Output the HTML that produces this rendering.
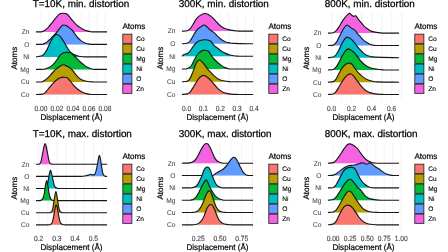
<!DOCTYPE html>
<html><head><meta charset="utf-8"><title>Displacement ridgeline plots</title>
<style>
html,body{margin:0;padding:0;background:#fff;}
body{width:448px;height:252px;overflow:hidden;}
svg{display:block;font-family:"Liberation Sans", sans-serif;text-rendering:geometricPrecision;}
</style></head><body>
<svg width="448" height="252" viewBox="0 0 448 252">
<defs><filter id="soft" x="0" y="0" width="448" height="252" filterUnits="userSpaceOnUse"><feGaussianBlur stdDeviation="0.32"/></filter></defs>
<rect width="448" height="252" fill="#fff"/>
<g filter="url(#soft)">
<g>
<path d="M40.9,12.8V101.3M48.91,12.8V101.3M56.93,12.8V101.3M64.94,12.8V101.3M72.96,12.8V101.3M80.97,12.8V101.3M88.99,12.8V101.3M97,12.8V101.3M105.02,12.8V101.3" stroke="#EBEBEB" stroke-width="0.6" fill="none"/>
<path d="M33,31.9H110.3M33,44.4H110.3M33,56.9H110.3M33,69.4H110.3M33,81.95H110.3M33,94.5H110.3" stroke="#EBEBEB" stroke-width="0.6" fill="none"/>
<path d="M36,31.9H41.25C41.88,31.61 43.75,31 45,30.15C46.25,29.3 47.5,28.12 48.75,26.77C50,25.43 51.25,23.65 52.5,22.09C53.75,20.52 55,18.77 56.25,17.4C57.5,16.02 58.81,14.52 60,13.84C61.19,13.15 62.28,13.27 63.38,13.27C64.47,13.27 65.56,13.27 66.56,13.84C67.56,14.4 68.44,15.59 69.38,16.65C70.31,17.71 71.25,19.09 72.19,20.21C73.12,21.34 74.06,22.43 75,23.4C75.94,24.37 76.88,25.27 77.81,26.02C78.75,26.77 79.53,27.24 80.62,27.9C81.72,28.56 83.12,29.43 84.38,29.96C85.62,30.49 86.88,30.76 88.12,31.09C89.38,31.41 91.25,31.76 91.88,31.9H107Z" fill="#F564E3" stroke="none"/>
<path d="M36,31.9H41.25C41.88,31.61 43.75,31 45,30.15C46.25,29.3 47.5,28.12 48.75,26.77C50,25.43 51.25,23.65 52.5,22.09C53.75,20.52 55,18.77 56.25,17.4C57.5,16.02 58.81,14.52 60,13.84C61.19,13.15 62.28,13.27 63.38,13.27C64.47,13.27 65.56,13.27 66.56,13.84C67.56,14.4 68.44,15.59 69.38,16.65C70.31,17.71 71.25,19.09 72.19,20.21C73.12,21.34 74.06,22.43 75,23.4C75.94,24.37 76.88,25.27 77.81,26.02C78.75,26.77 79.53,27.24 80.62,27.9C81.72,28.56 83.12,29.43 84.38,29.96C85.62,30.49 86.88,30.76 88.12,31.09C89.38,31.41 91.25,31.76 91.88,31.9H107" fill="none" stroke="#181818" stroke-width="1.15" stroke-linejoin="round"/>
<path d="M36,44.4H42.19C42.66,44.23 44.16,43.8 45,43.38C45.84,42.95 46.47,42.5 47.25,41.88C48.03,41.25 48.84,40.45 49.69,39.62C50.53,38.8 51.28,37.97 52.31,36.91C53.34,35.84 54.81,34.45 55.88,33.25C56.94,32.05 57.84,30.75 58.69,29.69C59.53,28.62 60.22,27.64 60.94,26.88C61.66,26.11 62.16,25.31 63,25.09C63.84,24.88 64.94,25.11 66,25.56C67.06,26.02 68.34,27.03 69.38,27.81C70.41,28.59 71.25,29.22 72.19,30.25C73.12,31.28 74.06,32.75 75,34C75.94,35.25 76.88,36.69 77.81,37.75C78.75,38.81 79.53,39.53 80.62,40.38C81.72,41.22 83.12,42.23 84.38,42.81C85.62,43.39 86.88,43.58 88.12,43.84C89.38,44.11 91.25,44.31 91.88,44.4H107Z" fill="#619CFF" stroke="none"/>
<path d="M36,44.4H42.19C42.66,44.23 44.16,43.8 45,43.38C45.84,42.95 46.47,42.5 47.25,41.88C48.03,41.25 48.84,40.45 49.69,39.62C50.53,38.8 51.28,37.97 52.31,36.91C53.34,35.84 54.81,34.45 55.88,33.25C56.94,32.05 57.84,30.75 58.69,29.69C59.53,28.62 60.22,27.64 60.94,26.88C61.66,26.11 62.16,25.31 63,25.09C63.84,24.88 64.94,25.11 66,25.56C67.06,26.02 68.34,27.03 69.38,27.81C70.41,28.59 71.25,29.22 72.19,30.25C73.12,31.28 74.06,32.75 75,34C75.94,35.25 76.88,36.69 77.81,37.75C78.75,38.81 79.53,39.53 80.62,40.38C81.72,41.22 83.12,42.23 84.38,42.81C85.62,43.39 86.88,43.58 88.12,43.84C89.38,44.11 91.25,44.31 91.88,44.4H107" fill="none" stroke="#181818" stroke-width="1.15" stroke-linejoin="round"/>
<path d="M36,56.9C36.88,56.76 39.91,56.49 41.25,56.04C42.59,55.58 43.12,55.19 44.06,54.16C45,53.13 45.94,51.57 46.88,49.85C47.81,48.13 48.75,45.79 49.69,43.85C50.62,41.91 51.56,39.69 52.5,38.23C53.44,36.76 54.53,35.66 55.31,35.04C56.09,34.41 56.41,34.26 57.19,34.48C57.97,34.69 59.06,35.41 60,36.35C60.94,37.29 61.88,38.69 62.81,40.1C63.75,41.51 64.69,43.23 65.62,44.79C66.56,46.35 67.5,48.13 68.44,49.48C69.38,50.82 70.16,51.91 71.25,52.85C72.34,53.79 73.75,54.54 75,55.1C76.25,55.66 77.19,55.93 78.75,56.23C80.31,56.52 83.44,56.79 84.38,56.9H107Z" fill="#00BFC4" stroke="none"/>
<path d="M36,56.9C36.88,56.76 39.91,56.49 41.25,56.04C42.59,55.58 43.12,55.19 44.06,54.16C45,53.13 45.94,51.57 46.88,49.85C47.81,48.13 48.75,45.79 49.69,43.85C50.62,41.91 51.56,39.69 52.5,38.23C53.44,36.76 54.53,35.66 55.31,35.04C56.09,34.41 56.41,34.26 57.19,34.48C57.97,34.69 59.06,35.41 60,36.35C60.94,37.29 61.88,38.69 62.81,40.1C63.75,41.51 64.69,43.23 65.62,44.79C66.56,46.35 67.5,48.13 68.44,49.48C69.38,50.82 70.16,51.91 71.25,52.85C72.34,53.79 73.75,54.54 75,55.1C76.25,55.66 77.19,55.93 78.75,56.23C80.31,56.52 83.44,56.79 84.38,56.9H107" fill="none" stroke="#181818" stroke-width="1.15" stroke-linejoin="round"/>
<path d="M36,69.4H41C41.68,69.33 43.78,69.3 45.1,69C46.42,68.7 47.73,68.2 48.9,67.6C50.07,67 51.05,66.3 52.1,65.4C53.15,64.5 54.25,63.37 55.2,62.2C56.15,61.03 56.95,59.57 57.8,58.4C58.65,57.23 59.35,56.13 60.3,55.2C61.25,54.27 62.43,53.27 63.5,52.8C64.57,52.33 65.53,52.4 66.7,52.4C67.87,52.4 69.4,52.37 70.5,52.8C71.6,53.23 72.3,54.1 73.3,55C74.3,55.9 75.33,57.03 76.5,58.2C77.67,59.37 79.03,60.85 80.3,62C81.57,63.15 82.83,64.17 84.1,65.1C85.37,66.03 86.63,66.95 87.9,67.6C89.17,68.25 90.52,68.7 91.7,69C92.88,69.3 94.45,69.33 95,69.4H107Z" fill="#00BA38" stroke="none"/>
<path d="M36,69.4H41C41.68,69.33 43.78,69.3 45.1,69C46.42,68.7 47.73,68.2 48.9,67.6C50.07,67 51.05,66.3 52.1,65.4C53.15,64.5 54.25,63.37 55.2,62.2C56.15,61.03 56.95,59.57 57.8,58.4C58.65,57.23 59.35,56.13 60.3,55.2C61.25,54.27 62.43,53.27 63.5,52.8C64.57,52.33 65.53,52.4 66.7,52.4C67.87,52.4 69.4,52.37 70.5,52.8C71.6,53.23 72.3,54.1 73.3,55C74.3,55.9 75.33,57.03 76.5,58.2C77.67,59.37 79.03,60.85 80.3,62C81.57,63.15 82.83,64.17 84.1,65.1C85.37,66.03 86.63,66.95 87.9,67.6C89.17,68.25 90.52,68.7 91.7,69C92.88,69.3 94.45,69.33 95,69.4H107" fill="none" stroke="#181818" stroke-width="1.15" stroke-linejoin="round"/>
<path d="M36,81.95H42.19C42.66,81.65 44.06,80.85 45,80.17C45.94,79.5 46.88,78.8 47.81,77.92C48.75,77.05 49.69,75.96 50.62,74.92C51.56,73.89 52.5,72.74 53.44,71.74C54.38,70.74 55.31,69.77 56.25,68.92C57.19,68.08 58.12,67.3 59.06,66.67C60,66.05 61.09,65.49 61.88,65.17C62.66,64.86 62.97,64.64 63.75,64.8C64.53,64.96 65.62,65.67 66.56,66.11C67.5,66.55 68.44,66.8 69.38,67.42C70.31,68.05 71.25,68.83 72.19,69.86C73.12,70.89 74.06,72.46 75,73.61C75.94,74.77 76.88,75.86 77.81,76.8C78.75,77.74 79.53,78.58 80.62,79.24C81.72,79.89 83.12,80.36 84.38,80.74C85.62,81.11 86.56,81.29 88.12,81.49C89.69,81.69 92.81,81.87 93.75,81.95H107Z" fill="#B79F00" stroke="none"/>
<path d="M36,81.95H42.19C42.66,81.65 44.06,80.85 45,80.17C45.94,79.5 46.88,78.8 47.81,77.92C48.75,77.05 49.69,75.96 50.62,74.92C51.56,73.89 52.5,72.74 53.44,71.74C54.38,70.74 55.31,69.77 56.25,68.92C57.19,68.08 58.12,67.3 59.06,66.67C60,66.05 61.09,65.49 61.88,65.17C62.66,64.86 62.97,64.64 63.75,64.8C64.53,64.96 65.62,65.67 66.56,66.11C67.5,66.55 68.44,66.8 69.38,67.42C70.31,68.05 71.25,68.83 72.19,69.86C73.12,70.89 74.06,72.46 75,73.61C75.94,74.77 76.88,75.86 77.81,76.8C78.75,77.74 79.53,78.58 80.62,79.24C81.72,79.89 83.12,80.36 84.38,80.74C85.62,81.11 86.56,81.29 88.12,81.49C89.69,81.69 92.81,81.87 93.75,81.95H107" fill="none" stroke="#181818" stroke-width="1.15" stroke-linejoin="round"/>
<path d="M36,94.5C37.03,94.45 40.69,94.46 42.19,94.19C43.69,93.92 44.06,93.66 45,92.88C45.94,92.09 46.88,90.62 47.81,89.5C48.75,88.38 49.69,87.22 50.62,86.12C51.56,85.03 52.5,83.91 53.44,82.94C54.38,81.97 55.31,81.09 56.25,80.31C57.19,79.53 58.12,78.75 59.06,78.25C60,77.75 60.94,77.48 61.88,77.31C62.81,77.14 63.88,77.17 64.69,77.22C65.5,77.27 66.12,77.3 66.75,77.59C67.38,77.89 67.81,78.39 68.44,79C69.06,79.61 69.72,80.28 70.5,81.25C71.28,82.22 72.22,83.75 73.12,84.81C74.03,85.88 75,86.75 75.94,87.62C76.88,88.5 77.66,89.28 78.75,90.06C79.84,90.84 81.25,91.72 82.5,92.31C83.75,92.91 84.84,93.26 86.25,93.62C87.66,93.99 90.16,94.35 90.94,94.5H107Z" fill="#F8766D" stroke="none"/>
<path d="M36,94.5C37.03,94.45 40.69,94.46 42.19,94.19C43.69,93.92 44.06,93.66 45,92.88C45.94,92.09 46.88,90.62 47.81,89.5C48.75,88.38 49.69,87.22 50.62,86.12C51.56,85.03 52.5,83.91 53.44,82.94C54.38,81.97 55.31,81.09 56.25,80.31C57.19,79.53 58.12,78.75 59.06,78.25C60,77.75 60.94,77.48 61.88,77.31C62.81,77.14 63.88,77.17 64.69,77.22C65.5,77.27 66.12,77.3 66.75,77.59C67.38,77.89 67.81,78.39 68.44,79C69.06,79.61 69.72,80.28 70.5,81.25C71.28,82.22 72.22,83.75 73.12,84.81C74.03,85.88 75,86.75 75.94,87.62C76.88,88.5 77.66,89.28 78.75,90.06C79.84,90.84 81.25,91.72 82.5,92.31C83.75,92.91 84.84,93.26 86.25,93.62C87.66,93.99 90.16,94.35 90.94,94.5H107" fill="none" stroke="#181818" stroke-width="1.15" stroke-linejoin="round"/>
<text x="32.8" y="6.9" font-size="9.9" fill="#000" stroke="#000" stroke-width="0.25">T=10K, min. distortion</text>
<text transform="translate(29.5,34.25) scale(1,1.05)" font-size="6.6" fill="#4D4D4D" stroke="#4D4D4D" stroke-width="0.08" text-anchor="end">Zn</text>
<text transform="translate(29.5,46.75) scale(1,1.05)" font-size="6.6" fill="#4D4D4D" stroke="#4D4D4D" stroke-width="0.08" text-anchor="end">O</text>
<text transform="translate(29.5,59.25) scale(1,1.05)" font-size="6.6" fill="#4D4D4D" stroke="#4D4D4D" stroke-width="0.08" text-anchor="end">Ni</text>
<text transform="translate(29.5,71.75) scale(1,1.05)" font-size="6.6" fill="#4D4D4D" stroke="#4D4D4D" stroke-width="0.08" text-anchor="end">Mg</text>
<text transform="translate(29.5,84.3) scale(1,1.05)" font-size="6.6" fill="#4D4D4D" stroke="#4D4D4D" stroke-width="0.08" text-anchor="end">Cu</text>
<text transform="translate(29.5,96.85) scale(1,1.05)" font-size="6.6" fill="#4D4D4D" stroke="#4D4D4D" stroke-width="0.08" text-anchor="end">Co</text>
<text transform="translate(16.85,58.1) rotate(-90)" font-size="8.1" fill="#000" stroke="#000" stroke-width="0.2" text-anchor="middle">Atoms</text>
<text transform="translate(40.9,110.6) scale(1,1.14)" font-size="6.6" fill="#4D4D4D" stroke="#4D4D4D" stroke-width="0.15" text-anchor="middle">0.00</text>
<text transform="translate(56.93,110.6) scale(1,1.14)" font-size="6.6" fill="#4D4D4D" stroke="#4D4D4D" stroke-width="0.15" text-anchor="middle">0.02</text>
<text transform="translate(72.95,110.6) scale(1,1.14)" font-size="6.6" fill="#4D4D4D" stroke="#4D4D4D" stroke-width="0.15" text-anchor="middle">0.04</text>
<text transform="translate(88.98,110.6) scale(1,1.14)" font-size="6.6" fill="#4D4D4D" stroke="#4D4D4D" stroke-width="0.15" text-anchor="middle">0.06</text>
<text transform="translate(105,110.6) scale(1,1.14)" font-size="6.6" fill="#4D4D4D" stroke="#4D4D4D" stroke-width="0.15" text-anchor="middle">0.08</text>
<text transform="translate(71.5,120.2) scale(1,1.03)" font-size="8.1" fill="#000" stroke="#000" stroke-width="0.2" text-anchor="middle">Displacement (Å)</text>
<text transform="translate(122.4,28.7) scale(1,1.03)" font-size="8.1" fill="#000" stroke="#000" stroke-width="0.2">Atoms</text>
<rect x="122.8" y="34.15" width="9.1" height="9.2" fill="#F8766D" stroke="#181818" stroke-width="0.8"/>
<text x="136.35" y="41.45" font-size="6.6" fill="#000" stroke="#000" stroke-width="0.12">Co</text>
<rect x="122.8" y="44.15" width="9.1" height="9.2" fill="#B79F00" stroke="#181818" stroke-width="0.8"/>
<text x="136.35" y="51.45" font-size="6.6" fill="#000" stroke="#000" stroke-width="0.12">Cu</text>
<rect x="122.8" y="54.15" width="9.1" height="9.2" fill="#00BA38" stroke="#181818" stroke-width="0.8"/>
<text x="136.35" y="61.45" font-size="6.6" fill="#000" stroke="#000" stroke-width="0.12">Mg</text>
<rect x="122.8" y="64.15" width="9.1" height="9.2" fill="#00BFC4" stroke="#181818" stroke-width="0.8"/>
<text x="136.35" y="71.45" font-size="6.6" fill="#000" stroke="#000" stroke-width="0.12">Ni</text>
<rect x="122.8" y="74.15" width="9.1" height="9.2" fill="#619CFF" stroke="#181818" stroke-width="0.8"/>
<text x="136.35" y="81.45" font-size="6.6" fill="#000" stroke="#000" stroke-width="0.12">O</text>
<rect x="122.8" y="84.15" width="9.1" height="9.2" fill="#F564E3" stroke="#181818" stroke-width="0.8"/>
<text x="136.35" y="91.45" font-size="6.6" fill="#000" stroke="#000" stroke-width="0.12">Zn</text>
</g>
<g>
<path d="M186.5,12.8V101.3M194.94,12.8V101.3M203.38,12.8V101.3M211.82,12.8V101.3M220.26,12.8V101.3M228.7,12.8V101.3M237.14,12.8V101.3M245.58,12.8V101.3M254.02,12.8V101.3" stroke="#EBEBEB" stroke-width="0.6" fill="none"/>
<path d="M179,31.1H256.3M179,43.8H256.3M179,56.2H256.3M179,69H256.3M179,81.75H256.3M179,94.5H256.3" stroke="#EBEBEB" stroke-width="0.6" fill="none"/>
<path d="M182,31.1C182.88,31.04 185.91,31.1 187.25,30.73C188.59,30.35 189.12,29.85 190.06,28.85C191,27.85 191.94,26.23 192.88,24.73C193.81,23.23 194.75,21.19 195.69,19.85C196.62,18.51 197.41,17.6 198.5,16.66C199.59,15.73 201.16,14.76 202.25,14.23C203.34,13.69 204.12,13.48 205.06,13.48C206,13.48 206.94,13.79 207.88,14.23C208.81,14.66 209.75,15.38 210.69,16.1C211.62,16.82 212.56,17.6 213.5,18.54C214.44,19.48 215.38,20.69 216.31,21.73C217.25,22.76 218.19,23.85 219.12,24.73C220.06,25.6 221,26.35 221.94,26.98C222.88,27.6 223.66,28.04 224.75,28.48C225.84,28.91 227.25,29.29 228.5,29.6C229.75,29.91 230.69,30.1 232.25,30.35C233.81,30.6 236.94,30.98 237.88,31.1H253Z" fill="#F564E3" stroke="none"/>
<path d="M182,31.1C182.88,31.04 185.91,31.1 187.25,30.73C188.59,30.35 189.12,29.85 190.06,28.85C191,27.85 191.94,26.23 192.88,24.73C193.81,23.23 194.75,21.19 195.69,19.85C196.62,18.51 197.41,17.6 198.5,16.66C199.59,15.73 201.16,14.76 202.25,14.23C203.34,13.69 204.12,13.48 205.06,13.48C206,13.48 206.94,13.79 207.88,14.23C208.81,14.66 209.75,15.38 210.69,16.1C211.62,16.82 212.56,17.6 213.5,18.54C214.44,19.48 215.38,20.69 216.31,21.73C217.25,22.76 218.19,23.85 219.12,24.73C220.06,25.6 221,26.35 221.94,26.98C222.88,27.6 223.66,28.04 224.75,28.48C225.84,28.91 227.25,29.29 228.5,29.6C229.75,29.91 230.69,30.1 232.25,30.35C233.81,30.6 236.94,30.98 237.88,31.1H253" fill="none" stroke="#181818" stroke-width="1.15" stroke-linejoin="round"/>
<path d="M182,43.8C182.88,43.71 185.91,43.71 187.25,43.24C188.59,42.77 189.12,42.14 190.06,40.99C191,39.83 191.94,37.86 192.88,36.3C193.81,34.74 194.75,32.92 195.69,31.61C196.62,30.3 197.56,29.27 198.5,28.42C199.44,27.58 200.38,27.11 201.31,26.55C202.25,25.99 203.34,25.14 204.12,25.05C204.91,24.96 205.22,25.36 206,25.99C206.78,26.61 207.88,27.96 208.81,28.8C209.75,29.64 210.69,30.36 211.62,31.05C212.56,31.74 213.5,32.11 214.44,32.92C215.38,33.74 216.31,34.99 217.25,35.92C218.19,36.86 219.12,37.77 220.06,38.55C221,39.33 221.94,40.05 222.88,40.61C223.81,41.17 224.59,41.55 225.69,41.92C226.78,42.3 228.03,42.61 229.44,42.86C230.84,43.11 230.2,43.27 234.12,43.42C238.05,43.58 249.85,43.74 253,43.8Z" fill="#619CFF" stroke="none"/>
<path d="M182,43.8C182.88,43.71 185.91,43.71 187.25,43.24C188.59,42.77 189.12,42.14 190.06,40.99C191,39.83 191.94,37.86 192.88,36.3C193.81,34.74 194.75,32.92 195.69,31.61C196.62,30.3 197.56,29.27 198.5,28.42C199.44,27.58 200.38,27.11 201.31,26.55C202.25,25.99 203.34,25.14 204.12,25.05C204.91,24.96 205.22,25.36 206,25.99C206.78,26.61 207.88,27.96 208.81,28.8C209.75,29.64 210.69,30.36 211.62,31.05C212.56,31.74 213.5,32.11 214.44,32.92C215.38,33.74 216.31,34.99 217.25,35.92C218.19,36.86 219.12,37.77 220.06,38.55C221,39.33 221.94,40.05 222.88,40.61C223.81,41.17 224.59,41.55 225.69,41.92C226.78,42.3 228.03,42.61 229.44,42.86C230.84,43.11 230.2,43.27 234.12,43.42C238.05,43.58 249.85,43.74 253,43.8" fill="none" stroke="#181818" stroke-width="1.15" stroke-linejoin="round"/>
<path d="M182,56.2C182.33,55.92 183.03,55 184,54.5C184.97,54 186.75,53.83 187.8,53.2C188.85,52.57 189.45,51.75 190.3,50.7C191.15,49.65 192.05,48.07 192.9,46.9C193.75,45.73 194.55,44.58 195.4,43.7C196.25,42.82 197.05,42.18 198,41.6C198.95,41.02 200.05,40.5 201.1,40.2C202.15,39.9 203.23,39.83 204.3,39.8C205.37,39.77 206.43,39.75 207.5,40C208.57,40.25 209.75,40.58 210.7,41.3C211.65,42.02 212.4,43.4 213.2,44.3C214,45.2 214.8,46.08 215.5,46.7C216.2,47.32 216.45,47.28 217.4,48C218.35,48.72 219.93,50.15 221.2,51C222.47,51.85 223.72,52.47 225,53.1C226.28,53.73 227.42,54.35 228.9,54.8C230.38,55.25 232.22,55.57 233.9,55.8C235.58,56.03 238.15,56.13 239,56.2H253Z" fill="#00BFC4" stroke="none"/>
<path d="M182,56.2C182.33,55.92 183.03,55 184,54.5C184.97,54 186.75,53.83 187.8,53.2C188.85,52.57 189.45,51.75 190.3,50.7C191.15,49.65 192.05,48.07 192.9,46.9C193.75,45.73 194.55,44.58 195.4,43.7C196.25,42.82 197.05,42.18 198,41.6C198.95,41.02 200.05,40.5 201.1,40.2C202.15,39.9 203.23,39.83 204.3,39.8C205.37,39.77 206.43,39.75 207.5,40C208.57,40.25 209.75,40.58 210.7,41.3C211.65,42.02 212.4,43.4 213.2,44.3C214,45.2 214.8,46.08 215.5,46.7C216.2,47.32 216.45,47.28 217.4,48C218.35,48.72 219.93,50.15 221.2,51C222.47,51.85 223.72,52.47 225,53.1C226.28,53.73 227.42,54.35 228.9,54.8C230.38,55.25 232.22,55.57 233.9,55.8C235.58,56.03 238.15,56.13 239,56.2H253" fill="none" stroke="#181818" stroke-width="1.15" stroke-linejoin="round"/>
<path d="M182,69H186C186.52,68.78 188.17,68.32 189.1,67.7C190.03,67.08 190.75,66.55 191.6,65.3C192.45,64.05 193.35,61.78 194.2,60.2C195.05,58.62 195.87,57.07 196.7,55.8C197.53,54.53 198.15,53.5 199.2,52.6C200.25,51.7 201.52,50.67 203,50.4C204.48,50.13 206.93,50.47 208.1,51C209.27,51.53 209.32,52.65 210,53.6C210.68,54.55 211.6,55.88 212.2,56.7C212.8,57.52 212.73,57.57 213.6,58.5C214.47,59.43 216.13,61.15 217.4,62.3C218.67,63.45 219.93,64.52 221.2,65.4C222.47,66.28 223.62,67 225,67.6C226.38,68.2 228.75,68.77 229.5,69H253Z" fill="#00BA38" stroke="none"/>
<path d="M182,69H186C186.52,68.78 188.17,68.32 189.1,67.7C190.03,67.08 190.75,66.55 191.6,65.3C192.45,64.05 193.35,61.78 194.2,60.2C195.05,58.62 195.87,57.07 196.7,55.8C197.53,54.53 198.15,53.5 199.2,52.6C200.25,51.7 201.52,50.67 203,50.4C204.48,50.13 206.93,50.47 208.1,51C209.27,51.53 209.32,52.65 210,53.6C210.68,54.55 211.6,55.88 212.2,56.7C212.8,57.52 212.73,57.57 213.6,58.5C214.47,59.43 216.13,61.15 217.4,62.3C218.67,63.45 219.93,64.52 221.2,65.4C222.47,66.28 223.62,67 225,67.6C226.38,68.2 228.75,68.77 229.5,69H253" fill="none" stroke="#181818" stroke-width="1.15" stroke-linejoin="round"/>
<path d="M182,81.75C182.88,81.66 185.91,81.75 187.25,81.21C188.59,80.65 189.12,79.96 190.06,78.4C191,76.84 191.94,74.18 192.88,71.84C193.81,69.49 194.91,66.12 195.69,64.34C196.47,62.56 196.94,61.87 197.56,61.15C198.19,60.43 198.81,60.03 199.44,60.03C200.06,60.03 200.53,60.43 201.31,61.15C202.09,61.87 203.19,63.18 204.12,64.34C205.06,65.49 206,66.9 206.94,68.09C207.88,69.28 208.81,70.43 209.75,71.46C210.69,72.49 211.62,73.37 212.56,74.28C213.5,75.18 214.44,76.12 215.38,76.9C216.31,77.68 217.25,78.4 218.19,78.96C219.12,79.53 219.91,79.93 221,80.28C222.09,80.62 223.19,80.78 224.75,81.03C226.31,81.27 229.44,81.63 230.38,81.75H253Z" fill="#B79F00" stroke="none"/>
<path d="M182,81.75C182.88,81.66 185.91,81.75 187.25,81.21C188.59,80.65 189.12,79.96 190.06,78.4C191,76.84 191.94,74.18 192.88,71.84C193.81,69.49 194.91,66.12 195.69,64.34C196.47,62.56 196.94,61.87 197.56,61.15C198.19,60.43 198.81,60.03 199.44,60.03C200.06,60.03 200.53,60.43 201.31,61.15C202.09,61.87 203.19,63.18 204.12,64.34C205.06,65.49 206,66.9 206.94,68.09C207.88,69.28 208.81,70.43 209.75,71.46C210.69,72.49 211.62,73.37 212.56,74.28C213.5,75.18 214.44,76.12 215.38,76.9C216.31,77.68 217.25,78.4 218.19,78.96C219.12,79.53 219.91,79.93 221,80.28C222.09,80.62 223.19,80.78 224.75,81.03C226.31,81.27 229.44,81.63 230.38,81.75H253" fill="none" stroke="#181818" stroke-width="1.15" stroke-linejoin="round"/>
<path d="M182,94.5C182.88,94.4 185.91,94.33 187.25,93.92C188.59,93.52 189.12,93.05 190.06,92.05C191,91.05 191.94,89.39 192.88,87.92C193.81,86.46 194.75,84.74 195.69,83.24C196.62,81.74 197.56,80.08 198.5,78.92C199.44,77.77 200.53,76.89 201.31,76.3C202.09,75.71 202.41,75.36 203.19,75.36C203.97,75.36 205.06,75.77 206,76.3C206.94,76.83 207.88,77.71 208.81,78.55C209.75,79.39 210.69,80.36 211.62,81.36C212.56,82.36 213.5,83.46 214.44,84.55C215.38,85.64 216.31,86.96 217.25,87.92C218.19,88.89 219.12,89.64 220.06,90.36C221,91.08 221.78,91.74 222.88,92.24C223.97,92.74 225.22,93.05 226.62,93.36C228.03,93.67 229.44,93.92 231.31,94.11C233.19,94.3 236.78,94.44 237.88,94.5H253Z" fill="#F8766D" stroke="none"/>
<path d="M182,94.5C182.88,94.4 185.91,94.33 187.25,93.92C188.59,93.52 189.12,93.05 190.06,92.05C191,91.05 191.94,89.39 192.88,87.92C193.81,86.46 194.75,84.74 195.69,83.24C196.62,81.74 197.56,80.08 198.5,78.92C199.44,77.77 200.53,76.89 201.31,76.3C202.09,75.71 202.41,75.36 203.19,75.36C203.97,75.36 205.06,75.77 206,76.3C206.94,76.83 207.88,77.71 208.81,78.55C209.75,79.39 210.69,80.36 211.62,81.36C212.56,82.36 213.5,83.46 214.44,84.55C215.38,85.64 216.31,86.96 217.25,87.92C218.19,88.89 219.12,89.64 220.06,90.36C221,91.08 221.78,91.74 222.88,92.24C223.97,92.74 225.22,93.05 226.62,93.36C228.03,93.67 229.44,93.92 231.31,94.11C233.19,94.3 236.78,94.44 237.88,94.5H253" fill="none" stroke="#181818" stroke-width="1.15" stroke-linejoin="round"/>
<text x="178.8" y="6.9" font-size="9.9" fill="#000" stroke="#000" stroke-width="0.25">300K, min. distortion</text>
<text transform="translate(175.5,33.45) scale(1,1.05)" font-size="6.6" fill="#4D4D4D" stroke="#4D4D4D" stroke-width="0.08" text-anchor="end">Zn</text>
<text transform="translate(175.5,46.15) scale(1,1.05)" font-size="6.6" fill="#4D4D4D" stroke="#4D4D4D" stroke-width="0.08" text-anchor="end">O</text>
<text transform="translate(175.5,58.55) scale(1,1.05)" font-size="6.6" fill="#4D4D4D" stroke="#4D4D4D" stroke-width="0.08" text-anchor="end">Ni</text>
<text transform="translate(175.5,71.35) scale(1,1.05)" font-size="6.6" fill="#4D4D4D" stroke="#4D4D4D" stroke-width="0.08" text-anchor="end">Mg</text>
<text transform="translate(175.5,84.1) scale(1,1.05)" font-size="6.6" fill="#4D4D4D" stroke="#4D4D4D" stroke-width="0.08" text-anchor="end">Cu</text>
<text transform="translate(175.5,96.85) scale(1,1.05)" font-size="6.6" fill="#4D4D4D" stroke="#4D4D4D" stroke-width="0.08" text-anchor="end">Co</text>
<text transform="translate(162.85,58.1) rotate(-90)" font-size="8.1" fill="#000" stroke="#000" stroke-width="0.2" text-anchor="middle">Atoms</text>
<text transform="translate(186.5,110.6) scale(1,1.14)" font-size="6.6" fill="#4D4D4D" stroke="#4D4D4D" stroke-width="0.15" text-anchor="middle">0.0</text>
<text transform="translate(203.38,110.6) scale(1,1.14)" font-size="6.6" fill="#4D4D4D" stroke="#4D4D4D" stroke-width="0.15" text-anchor="middle">0.1</text>
<text transform="translate(220.25,110.6) scale(1,1.14)" font-size="6.6" fill="#4D4D4D" stroke="#4D4D4D" stroke-width="0.15" text-anchor="middle">0.2</text>
<text transform="translate(237.13,110.6) scale(1,1.14)" font-size="6.6" fill="#4D4D4D" stroke="#4D4D4D" stroke-width="0.15" text-anchor="middle">0.3</text>
<text transform="translate(254,110.6) scale(1,1.14)" font-size="6.6" fill="#4D4D4D" stroke="#4D4D4D" stroke-width="0.15" text-anchor="middle">0.4</text>
<text transform="translate(217.5,120.2) scale(1,1.03)" font-size="8.1" fill="#000" stroke="#000" stroke-width="0.2" text-anchor="middle">Displacement (Å)</text>
<text transform="translate(268.4,28.7) scale(1,1.03)" font-size="8.1" fill="#000" stroke="#000" stroke-width="0.2">Atoms</text>
<rect x="268.8" y="34.15" width="9.1" height="9.2" fill="#F8766D" stroke="#181818" stroke-width="0.8"/>
<text x="282.35" y="41.45" font-size="6.6" fill="#000" stroke="#000" stroke-width="0.12">Co</text>
<rect x="268.8" y="44.15" width="9.1" height="9.2" fill="#B79F00" stroke="#181818" stroke-width="0.8"/>
<text x="282.35" y="51.45" font-size="6.6" fill="#000" stroke="#000" stroke-width="0.12">Cu</text>
<rect x="268.8" y="54.15" width="9.1" height="9.2" fill="#00BA38" stroke="#181818" stroke-width="0.8"/>
<text x="282.35" y="61.45" font-size="6.6" fill="#000" stroke="#000" stroke-width="0.12">Mg</text>
<rect x="268.8" y="64.15" width="9.1" height="9.2" fill="#00BFC4" stroke="#181818" stroke-width="0.8"/>
<text x="282.35" y="71.45" font-size="6.6" fill="#000" stroke="#000" stroke-width="0.12">Ni</text>
<rect x="268.8" y="74.15" width="9.1" height="9.2" fill="#619CFF" stroke="#181818" stroke-width="0.8"/>
<text x="282.35" y="81.45" font-size="6.6" fill="#000" stroke="#000" stroke-width="0.12">O</text>
<rect x="268.8" y="84.15" width="9.1" height="9.2" fill="#F564E3" stroke="#181818" stroke-width="0.8"/>
<text x="282.35" y="91.45" font-size="6.6" fill="#000" stroke="#000" stroke-width="0.12">Zn</text>
</g>
<g>
<path d="M331.7,12.8V101.3M341.7,12.8V101.3M351.7,12.8V101.3M361.7,12.8V101.3M371.7,12.8V101.3M381.7,12.8V101.3M391.7,12.8V101.3M401.7,12.8V101.3" stroke="#EBEBEB" stroke-width="0.6" fill="none"/>
<path d="M325,33.1H402.3M325,45.5H402.3M325,57.7H402.3M325,70H402.3M325,82.2H402.3M325,94.5H402.3" stroke="#EBEBEB" stroke-width="0.6" fill="none"/>
<path d="M328,33.1C328.88,33.03 331.91,33.08 333.25,32.7C334.59,32.32 335.12,31.76 336.06,30.83C337,29.89 337.94,28.48 338.88,27.08C339.81,25.67 340.75,23.89 341.69,22.39C342.62,20.89 343.56,19.33 344.5,18.08C345.44,16.83 346.44,15.67 347.31,14.89C348.19,14.11 348.97,13.29 349.75,13.39C350.53,13.48 351.31,14.95 352,15.45C352.69,15.95 353.25,16.33 353.88,16.39C354.5,16.45 354.97,15.29 355.75,15.83C356.53,16.36 357.62,18.39 358.56,19.58C359.5,20.76 360.44,21.86 361.38,22.95C362.31,24.04 363.25,25.2 364.19,26.14C365.12,27.08 366.06,27.86 367,28.58C367.94,29.29 368.88,29.95 369.81,30.45C370.75,30.95 371.53,31.26 372.62,31.58C373.72,31.89 374.81,32.07 376.38,32.33C377.94,32.58 381.06,32.97 382,33.1H399Z" fill="#F564E3" stroke="none"/>
<path d="M328,33.1C328.88,33.03 331.91,33.08 333.25,32.7C334.59,32.32 335.12,31.76 336.06,30.83C337,29.89 337.94,28.48 338.88,27.08C339.81,25.67 340.75,23.89 341.69,22.39C342.62,20.89 343.56,19.33 344.5,18.08C345.44,16.83 346.44,15.67 347.31,14.89C348.19,14.11 348.97,13.29 349.75,13.39C350.53,13.48 351.31,14.95 352,15.45C352.69,15.95 353.25,16.33 353.88,16.39C354.5,16.45 354.97,15.29 355.75,15.83C356.53,16.36 357.62,18.39 358.56,19.58C359.5,20.76 360.44,21.86 361.38,22.95C362.31,24.04 363.25,25.2 364.19,26.14C365.12,27.08 366.06,27.86 367,28.58C367.94,29.29 368.88,29.95 369.81,30.45C370.75,30.95 371.53,31.26 372.62,31.58C373.72,31.89 374.81,32.07 376.38,32.33C377.94,32.58 381.06,32.97 382,33.1H399" fill="none" stroke="#181818" stroke-width="1.15" stroke-linejoin="round"/>
<path d="M328,45.5C328.88,45.43 331.91,45.5 333.25,45.09C334.59,44.61 335.12,43.9 336.06,42.65C337,41.4 337.94,39.37 338.88,37.59C339.81,35.81 340.75,33.68 341.69,31.96C342.62,30.24 343.66,28.43 344.5,27.27C345.34,26.12 345.97,25.18 346.75,25.02C347.53,24.87 348.31,25.74 349.19,26.34C350.06,26.93 351.06,27.96 352,28.59C352.94,29.21 353.97,29.34 354.81,30.09C355.66,30.84 356.12,31.96 357.06,33.09C358,34.21 359.41,35.71 360.44,36.84C361.47,37.96 362.31,38.96 363.25,39.84C364.19,40.71 365.12,41.45 366.06,42.09C367,42.73 367.94,43.24 368.88,43.68C369.81,44.12 370.69,44.41 371.69,44.71C372.69,45.02 374.34,45.37 374.88,45.5H399Z" fill="#619CFF" stroke="none"/>
<path d="M328,45.5C328.88,45.43 331.91,45.5 333.25,45.09C334.59,44.61 335.12,43.9 336.06,42.65C337,41.4 337.94,39.37 338.88,37.59C339.81,35.81 340.75,33.68 341.69,31.96C342.62,30.24 343.66,28.43 344.5,27.27C345.34,26.12 345.97,25.18 346.75,25.02C347.53,24.87 348.31,25.74 349.19,26.34C350.06,26.93 351.06,27.96 352,28.59C352.94,29.21 353.97,29.34 354.81,30.09C355.66,30.84 356.12,31.96 357.06,33.09C358,34.21 359.41,35.71 360.44,36.84C361.47,37.96 362.31,38.96 363.25,39.84C364.19,40.71 365.12,41.45 366.06,42.09C367,42.73 367.94,43.24 368.88,43.68C369.81,44.12 370.69,44.41 371.69,44.71C372.69,45.02 374.34,45.37 374.88,45.5H399" fill="none" stroke="#181818" stroke-width="1.15" stroke-linejoin="round"/>
<path d="M328,57.7C328.88,57.58 331.91,57.48 333.25,56.99C334.59,56.49 335.12,55.89 336.06,54.74C337,53.58 337.94,51.83 338.88,50.05C339.81,48.27 340.75,45.83 341.69,44.05C342.62,42.27 343.66,40.52 344.5,39.36C345.34,38.21 345.97,37.36 346.75,37.11C347.53,36.86 348.31,37.39 349.19,37.86C350.06,38.33 351.06,39.05 352,39.93C352.94,40.8 353.88,41.96 354.81,43.11C355.75,44.27 356.69,45.71 357.62,46.86C358.56,48.02 359.5,49.05 360.44,50.05C361.38,51.05 362.31,52.05 363.25,52.86C364.19,53.68 364.97,54.36 366.06,54.93C367.16,55.49 368.25,55.86 369.81,56.24C371.38,56.61 370.57,56.93 375.44,57.18C380.3,57.42 395.07,57.61 399,57.7Z" fill="#00BFC4" stroke="none"/>
<path d="M328,57.7C328.88,57.58 331.91,57.48 333.25,56.99C334.59,56.49 335.12,55.89 336.06,54.74C337,53.58 337.94,51.83 338.88,50.05C339.81,48.27 340.75,45.83 341.69,44.05C342.62,42.27 343.66,40.52 344.5,39.36C345.34,38.21 345.97,37.36 346.75,37.11C347.53,36.86 348.31,37.39 349.19,37.86C350.06,38.33 351.06,39.05 352,39.93C352.94,40.8 353.88,41.96 354.81,43.11C355.75,44.27 356.69,45.71 357.62,46.86C358.56,48.02 359.5,49.05 360.44,50.05C361.38,51.05 362.31,52.05 363.25,52.86C364.19,53.68 364.97,54.36 366.06,54.93C367.16,55.49 368.25,55.86 369.81,56.24C371.38,56.61 370.57,56.93 375.44,57.18C380.3,57.42 395.07,57.61 399,57.7" fill="none" stroke="#181818" stroke-width="1.15" stroke-linejoin="round"/>
<path d="M328,70C328.88,69.91 331.91,69.92 333.25,69.45C334.59,68.98 335.12,68.36 336.06,67.2C337,66.04 337.94,64.23 338.88,62.51C339.81,60.79 340.75,58.61 341.69,56.89C342.62,55.17 343.72,53.36 344.5,52.2C345.28,51.04 345.75,50.51 346.38,49.95C347,49.39 347.62,48.89 348.25,48.83C348.88,48.76 349.44,49.17 350.12,49.58C350.81,49.98 351.59,50.67 352.38,51.26C353.16,51.86 353.94,52.2 354.81,53.14C355.69,54.08 356.69,55.64 357.62,56.89C358.56,58.14 359.5,59.54 360.44,60.64C361.38,61.73 362.31,62.61 363.25,63.45C364.19,64.29 365.12,65.08 366.06,65.7C367,66.33 367.78,66.73 368.88,67.2C369.97,67.67 371.22,68.17 372.62,68.51C374.03,68.86 375.44,69.01 377.31,69.26C379.19,69.51 382.78,69.88 383.88,70H399Z" fill="#00BA38" stroke="none"/>
<path d="M328,70C328.88,69.91 331.91,69.92 333.25,69.45C334.59,68.98 335.12,68.36 336.06,67.2C337,66.04 337.94,64.23 338.88,62.51C339.81,60.79 340.75,58.61 341.69,56.89C342.62,55.17 343.72,53.36 344.5,52.2C345.28,51.04 345.75,50.51 346.38,49.95C347,49.39 347.62,48.89 348.25,48.83C348.88,48.76 349.44,49.17 350.12,49.58C350.81,49.98 351.59,50.67 352.38,51.26C353.16,51.86 353.94,52.2 354.81,53.14C355.69,54.08 356.69,55.64 357.62,56.89C358.56,58.14 359.5,59.54 360.44,60.64C361.38,61.73 362.31,62.61 363.25,63.45C364.19,64.29 365.12,65.08 366.06,65.7C367,66.33 367.78,66.73 368.88,67.2C369.97,67.67 371.22,68.17 372.62,68.51C374.03,68.86 375.44,69.01 377.31,69.26C379.19,69.51 382.78,69.88 383.88,70H399" fill="none" stroke="#181818" stroke-width="1.15" stroke-linejoin="round"/>
<path d="M328,82.2C328.88,82.11 331.91,82.17 333.25,81.64C334.59,81.11 335.12,80.33 336.06,79.01C337,77.7 337.94,75.48 338.88,73.76C339.81,72.04 340.75,70.11 341.69,68.7C342.62,67.29 343.56,66.2 344.5,65.33C345.44,64.45 346.44,63.83 347.31,63.45C348.19,63.08 348.97,62.92 349.75,63.08C350.53,63.23 351.16,63.54 352,64.39C352.84,65.23 353.88,66.89 354.81,68.14C355.75,69.39 356.69,70.79 357.62,71.89C358.56,72.98 359.5,73.83 360.44,74.7C361.38,75.58 362.31,76.42 363.25,77.14C364.19,77.86 365.12,78.48 366.06,79.01C367,79.54 367.78,79.95 368.88,80.33C369.97,80.7 371.22,81.01 372.62,81.26C374.03,81.51 372.92,81.67 377.31,81.83C381.71,81.98 395.39,82.14 399,82.2Z" fill="#B79F00" stroke="none"/>
<path d="M328,82.2C328.88,82.11 331.91,82.17 333.25,81.64C334.59,81.11 335.12,80.33 336.06,79.01C337,77.7 337.94,75.48 338.88,73.76C339.81,72.04 340.75,70.11 341.69,68.7C342.62,67.29 343.56,66.2 344.5,65.33C345.44,64.45 346.44,63.83 347.31,63.45C348.19,63.08 348.97,62.92 349.75,63.08C350.53,63.23 351.16,63.54 352,64.39C352.84,65.23 353.88,66.89 354.81,68.14C355.75,69.39 356.69,70.79 357.62,71.89C358.56,72.98 359.5,73.83 360.44,74.7C361.38,75.58 362.31,76.42 363.25,77.14C364.19,77.86 365.12,78.48 366.06,79.01C367,79.54 367.78,79.95 368.88,80.33C369.97,80.7 371.22,81.01 372.62,81.26C374.03,81.51 372.92,81.67 377.31,81.83C381.71,81.98 395.39,82.14 399,82.2" fill="none" stroke="#181818" stroke-width="1.15" stroke-linejoin="round"/>
<path d="M328,94.5C328.88,94.4 331.91,94.4 333.25,93.92C334.59,93.45 335.12,92.83 336.06,91.67C337,90.52 337.94,88.55 338.88,86.99C339.81,85.42 340.75,83.77 341.69,82.3C342.62,80.83 343.56,79.36 344.5,78.17C345.44,76.99 346.38,75.89 347.31,75.17C348.25,74.46 349.34,73.99 350.12,73.86C350.91,73.74 351.22,73.8 352,74.42C352.78,75.05 353.88,76.46 354.81,77.61C355.75,78.77 356.69,80.11 357.62,81.36C358.56,82.61 359.5,83.96 360.44,85.11C361.38,86.27 362.31,87.36 363.25,88.3C364.19,89.24 365.12,90.08 366.06,90.74C367,91.39 367.78,91.8 368.88,92.24C369.97,92.67 371.22,93.05 372.62,93.36C374.03,93.67 375.44,93.92 377.31,94.11C379.19,94.3 382.78,94.44 383.88,94.5H399Z" fill="#F8766D" stroke="none"/>
<path d="M328,94.5C328.88,94.4 331.91,94.4 333.25,93.92C334.59,93.45 335.12,92.83 336.06,91.67C337,90.52 337.94,88.55 338.88,86.99C339.81,85.42 340.75,83.77 341.69,82.3C342.62,80.83 343.56,79.36 344.5,78.17C345.44,76.99 346.38,75.89 347.31,75.17C348.25,74.46 349.34,73.99 350.12,73.86C350.91,73.74 351.22,73.8 352,74.42C352.78,75.05 353.88,76.46 354.81,77.61C355.75,78.77 356.69,80.11 357.62,81.36C358.56,82.61 359.5,83.96 360.44,85.11C361.38,86.27 362.31,87.36 363.25,88.3C364.19,89.24 365.12,90.08 366.06,90.74C367,91.39 367.78,91.8 368.88,92.24C369.97,92.67 371.22,93.05 372.62,93.36C374.03,93.67 375.44,93.92 377.31,94.11C379.19,94.3 382.78,94.44 383.88,94.5H399" fill="none" stroke="#181818" stroke-width="1.15" stroke-linejoin="round"/>
<text x="324.8" y="6.9" font-size="9.9" fill="#000" stroke="#000" stroke-width="0.25">800K, min. distortion</text>
<text transform="translate(321.5,35.45) scale(1,1.05)" font-size="6.6" fill="#4D4D4D" stroke="#4D4D4D" stroke-width="0.08" text-anchor="end">Zn</text>
<text transform="translate(321.5,47.85) scale(1,1.05)" font-size="6.6" fill="#4D4D4D" stroke="#4D4D4D" stroke-width="0.08" text-anchor="end">O</text>
<text transform="translate(321.5,60.05) scale(1,1.05)" font-size="6.6" fill="#4D4D4D" stroke="#4D4D4D" stroke-width="0.08" text-anchor="end">Ni</text>
<text transform="translate(321.5,72.35) scale(1,1.05)" font-size="6.6" fill="#4D4D4D" stroke="#4D4D4D" stroke-width="0.08" text-anchor="end">Mg</text>
<text transform="translate(321.5,84.55) scale(1,1.05)" font-size="6.6" fill="#4D4D4D" stroke="#4D4D4D" stroke-width="0.08" text-anchor="end">Cu</text>
<text transform="translate(321.5,96.85) scale(1,1.05)" font-size="6.6" fill="#4D4D4D" stroke="#4D4D4D" stroke-width="0.08" text-anchor="end">Co</text>
<text transform="translate(308.85,58.1) rotate(-90)" font-size="8.1" fill="#000" stroke="#000" stroke-width="0.2" text-anchor="middle">Atoms</text>
<text transform="translate(331.7,110.6) scale(1,1.14)" font-size="6.6" fill="#4D4D4D" stroke="#4D4D4D" stroke-width="0.15" text-anchor="middle">0.0</text>
<text transform="translate(351.7,110.6) scale(1,1.14)" font-size="6.6" fill="#4D4D4D" stroke="#4D4D4D" stroke-width="0.15" text-anchor="middle">0.2</text>
<text transform="translate(371.7,110.6) scale(1,1.14)" font-size="6.6" fill="#4D4D4D" stroke="#4D4D4D" stroke-width="0.15" text-anchor="middle">0.4</text>
<text transform="translate(391.7,110.6) scale(1,1.14)" font-size="6.6" fill="#4D4D4D" stroke="#4D4D4D" stroke-width="0.15" text-anchor="middle">0.6</text>
<text transform="translate(363.5,120.2) scale(1,1.03)" font-size="8.1" fill="#000" stroke="#000" stroke-width="0.2" text-anchor="middle">Displacement (Å)</text>
<text transform="translate(414.4,28.7) scale(1,1.03)" font-size="8.1" fill="#000" stroke="#000" stroke-width="0.2">Atoms</text>
<rect x="414.8" y="34.15" width="9.1" height="9.2" fill="#F8766D" stroke="#181818" stroke-width="0.8"/>
<text x="428.35" y="41.45" font-size="6.6" fill="#000" stroke="#000" stroke-width="0.12">Co</text>
<rect x="414.8" y="44.15" width="9.1" height="9.2" fill="#B79F00" stroke="#181818" stroke-width="0.8"/>
<text x="428.35" y="51.45" font-size="6.6" fill="#000" stroke="#000" stroke-width="0.12">Cu</text>
<rect x="414.8" y="54.15" width="9.1" height="9.2" fill="#00BA38" stroke="#181818" stroke-width="0.8"/>
<text x="428.35" y="61.45" font-size="6.6" fill="#000" stroke="#000" stroke-width="0.12">Mg</text>
<rect x="414.8" y="64.15" width="9.1" height="9.2" fill="#00BFC4" stroke="#181818" stroke-width="0.8"/>
<text x="428.35" y="71.45" font-size="6.6" fill="#000" stroke="#000" stroke-width="0.12">Ni</text>
<rect x="414.8" y="74.15" width="9.1" height="9.2" fill="#619CFF" stroke="#181818" stroke-width="0.8"/>
<text x="428.35" y="81.45" font-size="6.6" fill="#000" stroke="#000" stroke-width="0.12">O</text>
<rect x="414.8" y="84.15" width="9.1" height="9.2" fill="#F564E3" stroke="#181818" stroke-width="0.8"/>
<text x="428.35" y="91.45" font-size="6.6" fill="#000" stroke="#000" stroke-width="0.12">Zn</text>
</g>
<g>
<path d="M38.7,142.8V231.3M47.83,142.8V231.3M56.95,142.8V231.3M66.08,142.8V231.3M75.2,142.8V231.3M84.33,142.8V231.3M93.45,142.8V231.3M102.58,142.8V231.3" stroke="#EBEBEB" stroke-width="0.6" fill="none"/>
<path d="M33,164.2H110.3M33,176.35H110.3M33,188.5H110.3M33,200.6H110.3M33,212.75H110.3M33,224.8H110.3" stroke="#EBEBEB" stroke-width="0.6" fill="none"/>
<path d="M36,164.2H39.38C39.62,163.82 40.34,163.67 40.88,161.95C41.41,160.23 42.03,156.54 42.56,153.89C43.09,151.23 43.66,147.73 44.06,146.01C44.47,144.29 44.66,143.57 45,143.57C45.34,143.57 45.69,144.29 46.12,146.01C46.56,147.73 47.12,151.32 47.62,153.89C48.12,156.45 48.62,159.73 49.12,161.39C49.62,163.04 50.06,163.36 50.62,163.82C51.19,164.2 52.19,164.14 52.5,164.2H107Z" fill="#F564E3" stroke="none"/>
<path d="M36,164.2H39.38C39.62,163.82 40.34,163.67 40.88,161.95C41.41,160.23 42.03,156.54 42.56,153.89C43.09,151.23 43.66,147.73 44.06,146.01C44.47,144.29 44.66,143.57 45,143.57C45.34,143.57 45.69,144.29 46.12,146.01C46.56,147.73 47.12,151.32 47.62,153.89C48.12,156.45 48.62,159.73 49.12,161.39C49.62,163.04 50.06,163.36 50.62,163.82C51.19,164.2 52.19,164.14 52.5,164.2H107" fill="none" stroke="#181818" stroke-width="1.15" stroke-linejoin="round"/>
<path d="M36,176.35H80C80.75,176.3 83.07,176.25 84.5,176.05C85.93,175.85 87.6,175.45 88.6,175.15C89.6,174.85 89.8,174.3 90.5,174.25C91.2,174.2 92.07,174.88 92.8,174.85C93.53,174.82 94.33,174.8 94.9,174.05C95.47,173.3 95.77,172.02 96.2,170.35C96.63,168.68 97.12,166.05 97.5,164.05C97.88,162.05 98.18,159.8 98.5,158.35C98.82,156.9 99.1,155.35 99.4,155.35C99.7,155.35 99.98,156.8 100.3,158.35C100.62,159.9 100.97,162.53 101.3,164.65C101.63,166.77 101.95,169.35 102.3,171.05C102.65,172.75 102.93,173.97 103.4,174.85C103.87,175.73 104.82,176.1 105.1,176.35H107Z" fill="#619CFF" stroke="none"/>
<path d="M36,176.35H80C80.75,176.3 83.07,176.25 84.5,176.05C85.93,175.85 87.6,175.45 88.6,175.15C89.6,174.85 89.8,174.3 90.5,174.25C91.2,174.2 92.07,174.88 92.8,174.85C93.53,174.82 94.33,174.8 94.9,174.05C95.47,173.3 95.77,172.02 96.2,170.35C96.63,168.68 97.12,166.05 97.5,164.05C97.88,162.05 98.18,159.8 98.5,158.35C98.82,156.9 99.1,155.35 99.4,155.35C99.7,155.35 99.98,156.8 100.3,158.35C100.62,159.9 100.97,162.53 101.3,164.65C101.63,166.77 101.95,169.35 102.3,171.05C102.65,172.75 102.93,173.97 103.4,174.85C103.87,175.73 104.82,176.1 105.1,176.35H107" fill="none" stroke="#181818" stroke-width="1.15" stroke-linejoin="round"/>
<path d="M36,188.5H45.4C45.62,188.3 46.32,188.15 46.7,187.3C47.08,186.45 47.38,184.88 47.7,183.4C48.02,181.92 48.3,180.08 48.6,178.4C48.9,176.72 49.18,174.7 49.5,173.3C49.82,171.9 50.17,170 50.5,170C50.83,170 51.18,172.12 51.5,173.3C51.82,174.48 52.1,175.73 52.4,177.1C52.7,178.47 52.98,180.12 53.3,181.5C53.62,182.88 53.92,184.4 54.3,185.4C54.68,186.4 55.07,186.98 55.6,187.5C56.13,188.02 57.18,188.33 57.5,188.5H107Z" fill="#00BFC4" stroke="none"/>
<path d="M36,188.5H45.4C45.62,188.3 46.32,188.15 46.7,187.3C47.08,186.45 47.38,184.88 47.7,183.4C48.02,181.92 48.3,180.08 48.6,178.4C48.9,176.72 49.18,174.7 49.5,173.3C49.82,171.9 50.17,170 50.5,170C50.83,170 51.18,172.12 51.5,173.3C51.82,174.48 52.1,175.73 52.4,177.1C52.7,178.47 52.98,180.12 53.3,181.5C53.62,182.88 53.92,184.4 54.3,185.4C54.68,186.4 55.07,186.98 55.6,187.5C56.13,188.02 57.18,188.33 57.5,188.5H107" fill="none" stroke="#181818" stroke-width="1.15" stroke-linejoin="round"/>
<path d="M36,200.6H39.5C39.75,200.55 40.54,200.52 41,200.3C41.46,200.08 41.9,199.72 42.25,199.3C42.6,198.88 42.77,198.68 43.1,197.8C43.43,196.92 43.92,195.27 44.2,194C44.48,192.73 44.6,191.58 44.8,190.2C45,188.82 45.18,187.02 45.4,185.7C45.62,184.38 45.88,183.15 46.1,182.3C46.32,181.45 46.5,180.57 46.7,180.6C46.9,180.63 47.08,181.53 47.3,182.5C47.52,183.47 47.78,185.12 48,186.4C48.22,187.68 48.4,188.93 48.6,190.2C48.8,191.47 48.93,192.73 49.2,194C49.48,195.27 49.93,196.92 50.25,197.8C50.57,198.68 50.74,198.88 51.1,199.3C51.46,199.72 51.92,200.08 52.4,200.3C52.88,200.52 53.73,200.55 54,200.6H107Z" fill="#00BA38" stroke="none"/>
<path d="M36,200.6H39.5C39.75,200.55 40.54,200.52 41,200.3C41.46,200.08 41.9,199.72 42.25,199.3C42.6,198.88 42.77,198.68 43.1,197.8C43.43,196.92 43.92,195.27 44.2,194C44.48,192.73 44.6,191.58 44.8,190.2C45,188.82 45.18,187.02 45.4,185.7C45.62,184.38 45.88,183.15 46.1,182.3C46.32,181.45 46.5,180.57 46.7,180.6C46.9,180.63 47.08,181.53 47.3,182.5C47.52,183.47 47.78,185.12 48,186.4C48.22,187.68 48.4,188.93 48.6,190.2C48.8,191.47 48.93,192.73 49.2,194C49.48,195.27 49.93,196.92 50.25,197.8C50.57,198.68 50.74,198.88 51.1,199.3C51.46,199.72 51.92,200.08 52.4,200.3C52.88,200.52 53.73,200.55 54,200.6H107" fill="none" stroke="#181818" stroke-width="1.15" stroke-linejoin="round"/>
<path d="M36,212.75H49.69C50,212.59 51.03,212.58 51.56,211.8C52.09,211.02 52.41,210.24 52.88,208.05C53.34,205.86 53.88,201.43 54.38,198.68C54.88,195.93 55.38,191.55 55.88,191.55C56.38,191.55 56.88,195.93 57.38,198.68C57.88,201.43 58.38,205.86 58.88,208.05C59.38,210.24 59.81,211.02 60.38,211.8C60.94,212.58 61.94,212.59 62.25,212.75H107Z" fill="#B79F00" stroke="none"/>
<path d="M36,212.75H49.69C50,212.59 51.03,212.58 51.56,211.8C52.09,211.02 52.41,210.24 52.88,208.05C53.34,205.86 53.88,201.43 54.38,198.68C54.88,195.93 55.38,191.55 55.88,191.55C56.38,191.55 56.88,195.93 57.38,198.68C57.88,201.43 58.38,205.86 58.88,208.05C59.38,210.24 59.81,211.02 60.38,211.8C60.94,212.58 61.94,212.59 62.25,212.75H107" fill="none" stroke="#181818" stroke-width="1.15" stroke-linejoin="round"/>
<path d="M36,224.8H48.5C48.83,224.75 49.95,224.75 50.5,224.5C51.05,224.25 51.43,223.92 51.8,223.3C52.17,222.68 52.38,221.97 52.7,220.8C53.02,219.63 53.43,217.68 53.7,216.3C53.97,214.92 54.08,213.77 54.3,212.5C54.52,211.23 54.78,209.75 55,208.7C55.22,207.65 55.4,206.83 55.6,206.2C55.8,205.57 55.98,204.9 56.2,204.9C56.42,204.9 56.68,205.57 56.9,206.2C57.12,206.83 57.3,207.65 57.5,208.7C57.7,209.75 57.88,211.23 58.1,212.5C58.32,213.77 58.52,214.92 58.8,216.3C59.08,217.68 59.45,219.63 59.8,220.8C60.15,221.97 60.43,222.68 60.9,223.3C61.37,223.92 62,224.25 62.6,224.5C63.2,224.75 64.18,224.75 64.5,224.8H107Z" fill="#F8766D" stroke="none"/>
<path d="M36,224.8H48.5C48.83,224.75 49.95,224.75 50.5,224.5C51.05,224.25 51.43,223.92 51.8,223.3C52.17,222.68 52.38,221.97 52.7,220.8C53.02,219.63 53.43,217.68 53.7,216.3C53.97,214.92 54.08,213.77 54.3,212.5C54.52,211.23 54.78,209.75 55,208.7C55.22,207.65 55.4,206.83 55.6,206.2C55.8,205.57 55.98,204.9 56.2,204.9C56.42,204.9 56.68,205.57 56.9,206.2C57.12,206.83 57.3,207.65 57.5,208.7C57.7,209.75 57.88,211.23 58.1,212.5C58.32,213.77 58.52,214.92 58.8,216.3C59.08,217.68 59.45,219.63 59.8,220.8C60.15,221.97 60.43,222.68 60.9,223.3C61.37,223.92 62,224.25 62.6,224.5C63.2,224.75 64.18,224.75 64.5,224.8H107" fill="none" stroke="#181818" stroke-width="1.15" stroke-linejoin="round"/>
<text x="32.8" y="136.9" font-size="9.9" fill="#000" stroke="#000" stroke-width="0.25">T=10K, max. distortion</text>
<text transform="translate(29.5,166.55) scale(1,1.05)" font-size="6.6" fill="#4D4D4D" stroke="#4D4D4D" stroke-width="0.08" text-anchor="end">Zn</text>
<text transform="translate(29.5,178.7) scale(1,1.05)" font-size="6.6" fill="#4D4D4D" stroke="#4D4D4D" stroke-width="0.08" text-anchor="end">O</text>
<text transform="translate(29.5,190.85) scale(1,1.05)" font-size="6.6" fill="#4D4D4D" stroke="#4D4D4D" stroke-width="0.08" text-anchor="end">Ni</text>
<text transform="translate(29.5,202.95) scale(1,1.05)" font-size="6.6" fill="#4D4D4D" stroke="#4D4D4D" stroke-width="0.08" text-anchor="end">Mg</text>
<text transform="translate(29.5,215.1) scale(1,1.05)" font-size="6.6" fill="#4D4D4D" stroke="#4D4D4D" stroke-width="0.08" text-anchor="end">Cu</text>
<text transform="translate(29.5,227.15) scale(1,1.05)" font-size="6.6" fill="#4D4D4D" stroke="#4D4D4D" stroke-width="0.08" text-anchor="end">Co</text>
<text transform="translate(16.85,188.1) rotate(-90)" font-size="8.1" fill="#000" stroke="#000" stroke-width="0.2" text-anchor="middle">Atoms</text>
<text transform="translate(38.7,240.6) scale(1,1.14)" font-size="6.6" fill="#4D4D4D" stroke="#4D4D4D" stroke-width="0.15" text-anchor="middle">0.2</text>
<text transform="translate(56.95,240.6) scale(1,1.14)" font-size="6.6" fill="#4D4D4D" stroke="#4D4D4D" stroke-width="0.15" text-anchor="middle">0.3</text>
<text transform="translate(75.2,240.6) scale(1,1.14)" font-size="6.6" fill="#4D4D4D" stroke="#4D4D4D" stroke-width="0.15" text-anchor="middle">0.4</text>
<text transform="translate(93.45,240.6) scale(1,1.14)" font-size="6.6" fill="#4D4D4D" stroke="#4D4D4D" stroke-width="0.15" text-anchor="middle">0.5</text>
<text transform="translate(71.5,250.2) scale(1,1.03)" font-size="8.1" fill="#000" stroke="#000" stroke-width="0.2" text-anchor="middle">Displacement (Å)</text>
<text transform="translate(122.4,158.7) scale(1,1.03)" font-size="8.1" fill="#000" stroke="#000" stroke-width="0.2">Atoms</text>
<rect x="122.8" y="164.15" width="9.1" height="9.2" fill="#F8766D" stroke="#181818" stroke-width="0.8"/>
<text x="136.35" y="171.45" font-size="6.6" fill="#000" stroke="#000" stroke-width="0.12">Co</text>
<rect x="122.8" y="174.15" width="9.1" height="9.2" fill="#B79F00" stroke="#181818" stroke-width="0.8"/>
<text x="136.35" y="181.45" font-size="6.6" fill="#000" stroke="#000" stroke-width="0.12">Cu</text>
<rect x="122.8" y="184.15" width="9.1" height="9.2" fill="#00BA38" stroke="#181818" stroke-width="0.8"/>
<text x="136.35" y="191.45" font-size="6.6" fill="#000" stroke="#000" stroke-width="0.12">Mg</text>
<rect x="122.8" y="194.15" width="9.1" height="9.2" fill="#00BFC4" stroke="#181818" stroke-width="0.8"/>
<text x="136.35" y="201.45" font-size="6.6" fill="#000" stroke="#000" stroke-width="0.12">Ni</text>
<rect x="122.8" y="204.15" width="9.1" height="9.2" fill="#619CFF" stroke="#181818" stroke-width="0.8"/>
<text x="136.35" y="211.45" font-size="6.6" fill="#000" stroke="#000" stroke-width="0.12">O</text>
<rect x="122.8" y="214.15" width="9.1" height="9.2" fill="#F564E3" stroke="#181818" stroke-width="0.8"/>
<text x="136.35" y="221.45" font-size="6.6" fill="#000" stroke="#000" stroke-width="0.12">Zn</text>
</g>
<g>
<path d="M187.4,142.8V231.3M198.25,142.8V231.3M209.1,142.8V231.3M219.95,142.8V231.3M230.8,142.8V231.3M241.65,142.8V231.3M252.5,142.8V231.3" stroke="#EBEBEB" stroke-width="0.6" fill="none"/>
<path d="M179,163.2H256.3M179,175.5H256.3M179,187.85H256.3M179,200.2H256.3M179,212.5H256.3M179,224.8H256.3" stroke="#EBEBEB" stroke-width="0.6" fill="none"/>
<path d="M182,163.2C183.34,163.14 188.09,163.13 190.06,162.81C192.03,162.5 192.72,162.09 193.81,161.31C194.91,160.53 195.69,159.53 196.62,158.12C197.56,156.72 198.5,154.62 199.44,152.88C200.38,151.12 201.41,149.03 202.25,147.62C203.09,146.22 203.81,145.12 204.5,144.44C205.19,143.75 205.75,143.5 206.38,143.5C207,143.5 207.53,143.56 208.25,144.44C208.97,145.31 209.88,147.09 210.69,148.75C211.5,150.41 212.34,152.69 213.12,154.38C213.91,156.06 214.62,157.72 215.38,158.88C216.12,160.03 216.84,160.72 217.62,161.31C218.41,161.91 219.19,162.12 220.06,162.44C220.94,162.75 222.41,163.07 222.88,163.2H253Z" fill="#F564E3" stroke="none"/>
<path d="M182,163.2C183.34,163.14 188.09,163.13 190.06,162.81C192.03,162.5 192.72,162.09 193.81,161.31C194.91,160.53 195.69,159.53 196.62,158.12C197.56,156.72 198.5,154.62 199.44,152.88C200.38,151.12 201.41,149.03 202.25,147.62C203.09,146.22 203.81,145.12 204.5,144.44C205.19,143.75 205.75,143.5 206.38,143.5C207,143.5 207.53,143.56 208.25,144.44C208.97,145.31 209.88,147.09 210.69,148.75C211.5,150.41 212.34,152.69 213.12,154.38C213.91,156.06 214.62,157.72 215.38,158.88C216.12,160.03 216.84,160.72 217.62,161.31C218.41,161.91 219.19,162.12 220.06,162.44C220.94,162.75 222.41,163.07 222.88,163.2H253" fill="none" stroke="#181818" stroke-width="1.15" stroke-linejoin="round"/>
<path d="M182,175.5H210.69C211.12,175.44 212.34,175.5 213.31,175.17C214.28,174.77 215.34,173.82 216.5,173.11C217.66,172.39 219,171.62 220.25,170.86C221.5,170.09 222.88,169.47 224,168.51C225.12,167.56 226.09,166.29 227,165.14C227.91,163.98 228.69,162.61 229.44,161.57C230.19,160.54 230.78,159.67 231.5,158.95C232.22,158.23 233.06,157.39 233.75,157.26C234.44,157.14 234.94,157.42 235.62,158.2C236.31,158.98 237.12,160.54 237.88,161.95C238.62,163.36 239.34,165.07 240.12,166.64C240.91,168.2 241.81,170.11 242.56,171.32C243.31,172.54 244,173.32 244.62,173.95C245.25,174.57 245.72,174.82 246.31,175.07C246.91,175.33 247.88,175.43 248.19,175.5H253Z" fill="#619CFF" stroke="none"/>
<path d="M182,175.5H210.69C211.12,175.44 212.34,175.5 213.31,175.17C214.28,174.77 215.34,173.82 216.5,173.11C217.66,172.39 219,171.62 220.25,170.86C221.5,170.09 222.88,169.47 224,168.51C225.12,167.56 226.09,166.29 227,165.14C227.91,163.98 228.69,162.61 229.44,161.57C230.19,160.54 230.78,159.67 231.5,158.95C232.22,158.23 233.06,157.39 233.75,157.26C234.44,157.14 234.94,157.42 235.62,158.2C236.31,158.98 237.12,160.54 237.88,161.95C238.62,163.36 239.34,165.07 240.12,166.64C240.91,168.2 241.81,170.11 242.56,171.32C243.31,172.54 244,173.32 244.62,173.95C245.25,174.57 245.72,174.82 246.31,175.07C246.91,175.33 247.88,175.43 248.19,175.5H253" fill="none" stroke="#181818" stroke-width="1.15" stroke-linejoin="round"/>
<path d="M182,187.85H191.1C191.52,187.78 192.75,187.68 193.6,187.4C194.45,187.12 195.45,186.78 196.2,186.2C196.95,185.62 197.47,184.92 198.1,183.9C198.73,182.88 199.37,181.48 200,180.1C200.63,178.72 201.32,177.08 201.9,175.6C202.48,174.12 202.98,172.4 203.5,171.2C204.02,170 204.42,169.08 205,168.4C205.58,167.72 206.35,167.18 207,167.1C207.65,167.02 208.33,167.33 208.9,167.9C209.47,168.47 209.88,169.32 210.4,170.5C210.92,171.68 211.45,173.52 212,175C212.55,176.48 213.12,178.03 213.7,179.4C214.28,180.77 214.87,182.13 215.5,183.2C216.13,184.27 216.8,185.15 217.5,185.8C218.2,186.45 218.92,186.76 219.7,187.1C220.48,187.44 221.78,187.72 222.2,187.85H253Z" fill="#00BFC4" stroke="none"/>
<path d="M182,187.85H191.1C191.52,187.78 192.75,187.68 193.6,187.4C194.45,187.12 195.45,186.78 196.2,186.2C196.95,185.62 197.47,184.92 198.1,183.9C198.73,182.88 199.37,181.48 200,180.1C200.63,178.72 201.32,177.08 201.9,175.6C202.48,174.12 202.98,172.4 203.5,171.2C204.02,170 204.42,169.08 205,168.4C205.58,167.72 206.35,167.18 207,167.1C207.65,167.02 208.33,167.33 208.9,167.9C209.47,168.47 209.88,169.32 210.4,170.5C210.92,171.68 211.45,173.52 212,175C212.55,176.48 213.12,178.03 213.7,179.4C214.28,180.77 214.87,182.13 215.5,183.2C216.13,184.27 216.8,185.15 217.5,185.8C218.2,186.45 218.92,186.76 219.7,187.1C220.48,187.44 221.78,187.72 222.2,187.85H253" fill="none" stroke="#181818" stroke-width="1.15" stroke-linejoin="round"/>
<path d="M182,200.2H189.8C190.33,200.1 192.05,200.02 193,199.6C193.95,199.18 194.65,198.65 195.5,197.7C196.35,196.75 197.35,195.17 198.1,193.9C198.85,192.63 199.37,191.37 200,190.1C200.63,188.83 201.27,187.53 201.9,186.3C202.53,185.07 203.1,183.77 203.8,182.7C204.5,181.63 205.47,180.05 206.1,179.9C206.73,179.75 207.03,180.73 207.6,181.8C208.17,182.87 208.87,184.92 209.5,186.3C210.13,187.68 210.77,188.95 211.4,190.1C212.03,191.25 212.67,192.25 213.3,193.2C213.93,194.15 214.46,195.02 215.2,195.8C215.94,196.58 216.9,197.32 217.75,197.9C218.6,198.48 219.34,198.92 220.3,199.3C221.26,199.68 222.97,200.05 223.5,200.2H253Z" fill="#00BA38" stroke="none"/>
<path d="M182,200.2H189.8C190.33,200.1 192.05,200.02 193,199.6C193.95,199.18 194.65,198.65 195.5,197.7C196.35,196.75 197.35,195.17 198.1,193.9C198.85,192.63 199.37,191.37 200,190.1C200.63,188.83 201.27,187.53 201.9,186.3C202.53,185.07 203.1,183.77 203.8,182.7C204.5,181.63 205.47,180.05 206.1,179.9C206.73,179.75 207.03,180.73 207.6,181.8C208.17,182.87 208.87,184.92 209.5,186.3C210.13,187.68 210.77,188.95 211.4,190.1C212.03,191.25 212.67,192.25 213.3,193.2C213.93,194.15 214.46,195.02 215.2,195.8C215.94,196.58 216.9,197.32 217.75,197.9C218.6,198.48 219.34,198.92 220.3,199.3C221.26,199.68 222.97,200.05 223.5,200.2H253" fill="none" stroke="#181818" stroke-width="1.15" stroke-linejoin="round"/>
<path d="M182,212.5H191.94C192.56,212.41 194.59,212.29 195.69,211.95C196.78,211.61 197.56,211.39 198.5,210.45C199.44,209.51 200.44,207.95 201.31,206.32C202.19,204.7 202.97,202.57 203.75,200.7C204.53,198.82 205.31,196.57 206,195.07C206.69,193.57 207.34,192.39 207.88,191.7C208.41,191.01 208.72,190.86 209.19,190.95C209.66,191.04 210.12,191.26 210.69,192.26C211.25,193.26 211.94,195.23 212.56,196.95C213.19,198.67 213.81,200.86 214.44,202.57C215.06,204.29 215.59,205.95 216.31,207.26C217.03,208.57 217.81,209.67 218.75,210.45C219.69,211.23 220.78,211.61 221.94,211.95C223.09,212.29 225.06,212.41 225.69,212.5H253Z" fill="#B79F00" stroke="none"/>
<path d="M182,212.5H191.94C192.56,212.41 194.59,212.29 195.69,211.95C196.78,211.61 197.56,211.39 198.5,210.45C199.44,209.51 200.44,207.95 201.31,206.32C202.19,204.7 202.97,202.57 203.75,200.7C204.53,198.82 205.31,196.57 206,195.07C206.69,193.57 207.34,192.39 207.88,191.7C208.41,191.01 208.72,190.86 209.19,190.95C209.66,191.04 210.12,191.26 210.69,192.26C211.25,193.26 211.94,195.23 212.56,196.95C213.19,198.67 213.81,200.86 214.44,202.57C215.06,204.29 215.59,205.95 216.31,207.26C217.03,208.57 217.81,209.67 218.75,210.45C219.69,211.23 220.78,211.61 221.94,211.95C223.09,212.29 225.06,212.41 225.69,212.5H253" fill="none" stroke="#181818" stroke-width="1.15" stroke-linejoin="round"/>
<path d="M182,224.8H192.88C193.5,224.71 195.53,224.55 196.62,224.24C197.72,223.93 198.5,223.71 199.44,222.93C200.38,222.14 201.41,220.89 202.25,219.55C203.09,218.21 203.78,216.58 204.5,214.86C205.22,213.14 205.91,210.71 206.56,209.24C207.22,207.77 207.81,206.83 208.44,206.05C209.06,205.27 209.69,204.71 210.31,204.55C210.94,204.39 211.56,204.49 212.19,205.11C212.81,205.74 213.44,206.99 214.06,208.3C214.69,209.61 215.31,211.43 215.94,212.99C216.56,214.55 217.12,216.27 217.81,217.68C218.5,219.08 219.22,220.46 220.06,221.43C220.91,222.39 221.78,222.99 222.88,223.49C223.97,223.99 225.22,224.21 226.62,224.43C228.03,224.64 230.53,224.74 231.31,224.8H253Z" fill="#F8766D" stroke="none"/>
<path d="M182,224.8H192.88C193.5,224.71 195.53,224.55 196.62,224.24C197.72,223.93 198.5,223.71 199.44,222.93C200.38,222.14 201.41,220.89 202.25,219.55C203.09,218.21 203.78,216.58 204.5,214.86C205.22,213.14 205.91,210.71 206.56,209.24C207.22,207.77 207.81,206.83 208.44,206.05C209.06,205.27 209.69,204.71 210.31,204.55C210.94,204.39 211.56,204.49 212.19,205.11C212.81,205.74 213.44,206.99 214.06,208.3C214.69,209.61 215.31,211.43 215.94,212.99C216.56,214.55 217.12,216.27 217.81,217.68C218.5,219.08 219.22,220.46 220.06,221.43C220.91,222.39 221.78,222.99 222.88,223.49C223.97,223.99 225.22,224.21 226.62,224.43C228.03,224.64 230.53,224.74 231.31,224.8H253" fill="none" stroke="#181818" stroke-width="1.15" stroke-linejoin="round"/>
<text x="178.8" y="136.9" font-size="9.9" fill="#000" stroke="#000" stroke-width="0.25">300K, max. distortion</text>
<text transform="translate(175.5,165.55) scale(1,1.05)" font-size="6.6" fill="#4D4D4D" stroke="#4D4D4D" stroke-width="0.08" text-anchor="end">Zn</text>
<text transform="translate(175.5,177.85) scale(1,1.05)" font-size="6.6" fill="#4D4D4D" stroke="#4D4D4D" stroke-width="0.08" text-anchor="end">O</text>
<text transform="translate(175.5,190.2) scale(1,1.05)" font-size="6.6" fill="#4D4D4D" stroke="#4D4D4D" stroke-width="0.08" text-anchor="end">Ni</text>
<text transform="translate(175.5,202.55) scale(1,1.05)" font-size="6.6" fill="#4D4D4D" stroke="#4D4D4D" stroke-width="0.08" text-anchor="end">Mg</text>
<text transform="translate(175.5,214.85) scale(1,1.05)" font-size="6.6" fill="#4D4D4D" stroke="#4D4D4D" stroke-width="0.08" text-anchor="end">Cu</text>
<text transform="translate(175.5,227.15) scale(1,1.05)" font-size="6.6" fill="#4D4D4D" stroke="#4D4D4D" stroke-width="0.08" text-anchor="end">Co</text>
<text transform="translate(162.85,188.1) rotate(-90)" font-size="8.1" fill="#000" stroke="#000" stroke-width="0.2" text-anchor="middle">Atoms</text>
<text transform="translate(198.25,240.6) scale(1,1.14)" font-size="6.6" fill="#4D4D4D" stroke="#4D4D4D" stroke-width="0.15" text-anchor="middle">0.25</text>
<text transform="translate(219.95,240.6) scale(1,1.14)" font-size="6.6" fill="#4D4D4D" stroke="#4D4D4D" stroke-width="0.15" text-anchor="middle">0.50</text>
<text transform="translate(241.65,240.6) scale(1,1.14)" font-size="6.6" fill="#4D4D4D" stroke="#4D4D4D" stroke-width="0.15" text-anchor="middle">0.75</text>
<text transform="translate(217.5,250.2) scale(1,1.03)" font-size="8.1" fill="#000" stroke="#000" stroke-width="0.2" text-anchor="middle">Displacement (Å)</text>
<text transform="translate(268.4,158.7) scale(1,1.03)" font-size="8.1" fill="#000" stroke="#000" stroke-width="0.2">Atoms</text>
<rect x="268.8" y="164.15" width="9.1" height="9.2" fill="#F8766D" stroke="#181818" stroke-width="0.8"/>
<text x="282.35" y="171.45" font-size="6.6" fill="#000" stroke="#000" stroke-width="0.12">Co</text>
<rect x="268.8" y="174.15" width="9.1" height="9.2" fill="#B79F00" stroke="#181818" stroke-width="0.8"/>
<text x="282.35" y="181.45" font-size="6.6" fill="#000" stroke="#000" stroke-width="0.12">Cu</text>
<rect x="268.8" y="184.15" width="9.1" height="9.2" fill="#00BA38" stroke="#181818" stroke-width="0.8"/>
<text x="282.35" y="191.45" font-size="6.6" fill="#000" stroke="#000" stroke-width="0.12">Mg</text>
<rect x="268.8" y="194.15" width="9.1" height="9.2" fill="#00BFC4" stroke="#181818" stroke-width="0.8"/>
<text x="282.35" y="201.45" font-size="6.6" fill="#000" stroke="#000" stroke-width="0.12">Ni</text>
<rect x="268.8" y="204.15" width="9.1" height="9.2" fill="#619CFF" stroke="#181818" stroke-width="0.8"/>
<text x="282.35" y="211.45" font-size="6.6" fill="#000" stroke="#000" stroke-width="0.12">O</text>
<rect x="268.8" y="214.15" width="9.1" height="9.2" fill="#F564E3" stroke="#181818" stroke-width="0.8"/>
<text x="282.35" y="221.45" font-size="6.6" fill="#000" stroke="#000" stroke-width="0.12">Zn</text>
</g>
<g>
<path d="M333.1,142.8V231.3M341.62,142.8V231.3M350.13,142.8V231.3M358.64,142.8V231.3M367.16,142.8V231.3M375.67,142.8V231.3M384.19,142.8V231.3M392.7,142.8V231.3M401.22,142.8V231.3" stroke="#EBEBEB" stroke-width="0.6" fill="none"/>
<path d="M325,163.2H402.3M325,175.5H402.3M325,187.85H402.3M325,200.2H402.3M325,212.5H402.3M325,224.8H402.3" stroke="#EBEBEB" stroke-width="0.6" fill="none"/>
<path d="M328,163.2C328.88,163.1 331.91,163.1 333.25,162.62C334.59,162.15 335.12,161.38 336.06,160.38C337,159.38 337.94,157.94 338.88,156.62C339.81,155.31 340.75,153.91 341.69,152.5C342.62,151.09 343.56,149.47 344.5,148.19C345.44,146.91 346.44,145.53 347.31,144.81C348.19,144.09 348.97,143.94 349.75,143.88C350.53,143.81 351.16,144.03 352,144.44C352.84,144.84 353.88,145.59 354.81,146.31C355.75,147.03 356.69,147.66 357.62,148.75C358.56,149.84 359.5,151.56 360.44,152.88C361.38,154.19 362.31,155.53 363.25,156.62C364.19,157.72 365.12,158.66 366.06,159.44C367,160.22 367.94,160.81 368.88,161.31C369.81,161.81 370.59,162.12 371.69,162.44C372.78,162.75 374.81,163.07 375.44,163.2H399Z" fill="#F564E3" stroke="none"/>
<path d="M328,163.2C328.88,163.1 331.91,163.1 333.25,162.62C334.59,162.15 335.12,161.38 336.06,160.38C337,159.38 337.94,157.94 338.88,156.62C339.81,155.31 340.75,153.91 341.69,152.5C342.62,151.09 343.56,149.47 344.5,148.19C345.44,146.91 346.44,145.53 347.31,144.81C348.19,144.09 348.97,143.94 349.75,143.88C350.53,143.81 351.16,144.03 352,144.44C352.84,144.84 353.88,145.59 354.81,146.31C355.75,147.03 356.69,147.66 357.62,148.75C358.56,149.84 359.5,151.56 360.44,152.88C361.38,154.19 362.31,155.53 363.25,156.62C364.19,157.72 365.12,158.66 366.06,159.44C367,160.22 367.94,160.81 368.88,161.31C369.81,161.81 370.59,162.12 371.69,162.44C372.78,162.75 374.81,163.07 375.44,163.2H399" fill="none" stroke="#181818" stroke-width="1.15" stroke-linejoin="round"/>
<path d="M328,175.5C328.88,175.43 331.75,175.46 333.25,175.07C334.75,174.69 335.75,173.98 337,173.2C338.25,172.42 339.5,171.32 340.75,170.39C342,169.45 343.25,168.36 344.5,167.57C345.75,166.79 347,166.07 348.25,165.7C349.5,165.32 350.75,165.48 352,165.32C353.25,165.17 354.66,165.01 355.75,164.76C356.84,164.51 357.62,164.14 358.56,163.82C359.5,163.51 360.44,162.98 361.38,162.89C362.31,162.79 363.25,163.04 364.19,163.26C365.12,163.48 366.22,164.23 367,164.2C367.78,164.17 368.19,163.2 368.88,163.07C369.56,162.95 370.34,163.07 371.12,163.45C371.91,163.82 372.69,164.64 373.56,165.32C374.44,166.01 375.44,166.95 376.38,167.57C377.31,168.2 378.25,168.45 379.19,169.07C380.12,169.7 380.91,170.56 382,171.32C383.09,172.09 384.34,173.03 385.75,173.67C387.16,174.31 389.03,174.86 390.44,175.17C391.84,175.47 393.56,175.44 394.19,175.5H399Z" fill="#619CFF" stroke="none"/>
<path d="M328,175.5C328.88,175.43 331.75,175.46 333.25,175.07C334.75,174.69 335.75,173.98 337,173.2C338.25,172.42 339.5,171.32 340.75,170.39C342,169.45 343.25,168.36 344.5,167.57C345.75,166.79 347,166.07 348.25,165.7C349.5,165.32 350.75,165.48 352,165.32C353.25,165.17 354.66,165.01 355.75,164.76C356.84,164.51 357.62,164.14 358.56,163.82C359.5,163.51 360.44,162.98 361.38,162.89C362.31,162.79 363.25,163.04 364.19,163.26C365.12,163.48 366.22,164.23 367,164.2C367.78,164.17 368.19,163.2 368.88,163.07C369.56,162.95 370.34,163.07 371.12,163.45C371.91,163.82 372.69,164.64 373.56,165.32C374.44,166.01 375.44,166.95 376.38,167.57C377.31,168.2 378.25,168.45 379.19,169.07C380.12,169.7 380.91,170.56 382,171.32C383.09,172.09 384.34,173.03 385.75,173.67C387.16,174.31 389.03,174.86 390.44,175.17C391.84,175.47 393.56,175.44 394.19,175.5H399" fill="none" stroke="#181818" stroke-width="1.15" stroke-linejoin="round"/>
<path d="M328,187.85H330.5C330.93,187.79 332.25,187.85 333.1,187.5C333.95,187.12 334.75,186.67 335.6,185.6C336.45,184.53 337.35,182.68 338.2,181.1C339.05,179.52 339.87,177.68 340.7,176.1C341.53,174.52 342.35,172.82 343.2,171.6C344.05,170.38 344.95,169.47 345.8,168.8C346.65,168.13 347.35,167.83 348.3,167.6C349.25,167.37 350.55,167.32 351.5,167.4C352.45,167.48 353.27,167.62 354,168.1C354.73,168.58 355.27,169.28 355.9,170.3C356.53,171.32 357.16,172.92 357.8,174.2C358.44,175.48 359,176.73 359.75,178C360.5,179.27 361.46,180.75 362.3,181.8C363.14,182.85 363.95,183.57 364.8,184.3C365.65,185.03 366.45,185.67 367.4,186.2C368.35,186.73 369.23,187.22 370.5,187.5C371.77,187.78 374.25,187.79 375,187.85H399Z" fill="#00BFC4" stroke="none"/>
<path d="M328,187.85H330.5C330.93,187.79 332.25,187.85 333.1,187.5C333.95,187.12 334.75,186.67 335.6,185.6C336.45,184.53 337.35,182.68 338.2,181.1C339.05,179.52 339.87,177.68 340.7,176.1C341.53,174.52 342.35,172.82 343.2,171.6C344.05,170.38 344.95,169.47 345.8,168.8C346.65,168.13 347.35,167.83 348.3,167.6C349.25,167.37 350.55,167.32 351.5,167.4C352.45,167.48 353.27,167.62 354,168.1C354.73,168.58 355.27,169.28 355.9,170.3C356.53,171.32 357.16,172.92 357.8,174.2C358.44,175.48 359,176.73 359.75,178C360.5,179.27 361.46,180.75 362.3,181.8C363.14,182.85 363.95,183.57 364.8,184.3C365.65,185.03 366.45,185.67 367.4,186.2C368.35,186.73 369.23,187.22 370.5,187.5C371.77,187.78 374.25,187.79 375,187.85H399" fill="none" stroke="#181818" stroke-width="1.15" stroke-linejoin="round"/>
<path d="M328,200.2C328.88,200.08 331.91,199.97 333.25,199.47C334.59,198.98 335.12,198.29 336.06,197.22C337,196.16 337.94,194.57 338.88,193.1C339.81,191.63 340.75,189.91 341.69,188.41C342.62,186.91 343.56,185.38 344.5,184.1C345.44,182.82 346.44,181.54 347.31,180.72C348.19,179.91 348.97,179.29 349.75,179.22C350.53,179.16 351.16,179.6 352,180.35C352.84,181.1 353.88,182.54 354.81,183.72C355.75,184.91 356.69,186.47 357.62,187.47C358.56,188.47 359.66,188.94 360.44,189.72C361.22,190.51 361.59,191.22 362.31,192.16C363.03,193.1 363.91,194.44 364.75,195.35C365.59,196.26 366.44,197.01 367.38,197.6C368.31,198.19 369.19,198.57 370.38,198.91C371.56,199.26 372.88,199.45 374.5,199.66C376.12,199.88 379.19,200.11 380.12,200.2H399Z" fill="#00BA38" stroke="none"/>
<path d="M328,200.2C328.88,200.08 331.91,199.97 333.25,199.47C334.59,198.98 335.12,198.29 336.06,197.22C337,196.16 337.94,194.57 338.88,193.1C339.81,191.63 340.75,189.91 341.69,188.41C342.62,186.91 343.56,185.38 344.5,184.1C345.44,182.82 346.44,181.54 347.31,180.72C348.19,179.91 348.97,179.29 349.75,179.22C350.53,179.16 351.16,179.6 352,180.35C352.84,181.1 353.88,182.54 354.81,183.72C355.75,184.91 356.69,186.47 357.62,187.47C358.56,188.47 359.66,188.94 360.44,189.72C361.22,190.51 361.59,191.22 362.31,192.16C363.03,193.1 363.91,194.44 364.75,195.35C365.59,196.26 366.44,197.01 367.38,197.6C368.31,198.19 369.19,198.57 370.38,198.91C371.56,199.26 372.88,199.45 374.5,199.66C376.12,199.88 379.19,200.11 380.12,200.2H399" fill="none" stroke="#181818" stroke-width="1.15" stroke-linejoin="round"/>
<path d="M328,212.5C328.88,212.41 331.91,212.35 333.25,211.95C334.59,211.55 335.12,211.07 336.06,210.07C337,209.07 337.94,207.51 338.88,205.95C339.81,204.39 340.75,202.36 341.69,200.7C342.62,199.04 343.62,197.39 344.5,196.01C345.38,194.64 346.16,193.29 346.94,192.45C347.72,191.61 348.44,190.95 349.19,190.95C349.94,190.95 350.66,191.61 351.44,192.45C352.22,193.29 353,194.7 353.88,196.01C354.75,197.32 355.75,198.92 356.69,200.32C357.62,201.73 358.56,203.2 359.5,204.45C360.44,205.7 361.38,206.89 362.31,207.82C363.25,208.76 364.19,209.51 365.12,210.07C366.06,210.64 366.84,210.89 367.94,211.2C369.03,211.51 369.97,211.73 371.69,211.95C373.41,212.17 377.16,212.41 378.25,212.5H399Z" fill="#B79F00" stroke="none"/>
<path d="M328,212.5C328.88,212.41 331.91,212.35 333.25,211.95C334.59,211.55 335.12,211.07 336.06,210.07C337,209.07 337.94,207.51 338.88,205.95C339.81,204.39 340.75,202.36 341.69,200.7C342.62,199.04 343.62,197.39 344.5,196.01C345.38,194.64 346.16,193.29 346.94,192.45C347.72,191.61 348.44,190.95 349.19,190.95C349.94,190.95 350.66,191.61 351.44,192.45C352.22,193.29 353,194.7 353.88,196.01C354.75,197.32 355.75,198.92 356.69,200.32C357.62,201.73 358.56,203.2 359.5,204.45C360.44,205.7 361.38,206.89 362.31,207.82C363.25,208.76 364.19,209.51 365.12,210.07C366.06,210.64 366.84,210.89 367.94,211.2C369.03,211.51 369.97,211.73 371.69,211.95C373.41,212.17 377.16,212.41 378.25,212.5H399" fill="none" stroke="#181818" stroke-width="1.15" stroke-linejoin="round"/>
<path d="M328,224.8C328.88,224.68 331.91,224.61 333.25,224.05C334.59,223.49 335.12,222.8 336.06,221.43C337,220.05 337.94,217.68 338.88,215.8C339.81,213.93 340.75,211.74 341.69,210.18C342.62,208.61 343.56,207.27 344.5,206.43C345.44,205.58 346.38,205.21 347.31,205.11C348.25,205.02 349.19,205.33 350.12,205.86C351.06,206.39 352,207.21 352.94,208.3C353.88,209.39 354.81,211.02 355.75,212.43C356.69,213.83 357.62,215.49 358.56,216.74C359.5,217.99 360.44,219.02 361.38,219.93C362.31,220.83 363.25,221.58 364.19,222.18C365.12,222.77 365.91,223.14 367,223.49C368.09,223.83 369.19,224.02 370.75,224.24C372.31,224.46 375.44,224.71 376.38,224.8H399Z" fill="#F8766D" stroke="none"/>
<path d="M328,224.8C328.88,224.68 331.91,224.61 333.25,224.05C334.59,223.49 335.12,222.8 336.06,221.43C337,220.05 337.94,217.68 338.88,215.8C339.81,213.93 340.75,211.74 341.69,210.18C342.62,208.61 343.56,207.27 344.5,206.43C345.44,205.58 346.38,205.21 347.31,205.11C348.25,205.02 349.19,205.33 350.12,205.86C351.06,206.39 352,207.21 352.94,208.3C353.88,209.39 354.81,211.02 355.75,212.43C356.69,213.83 357.62,215.49 358.56,216.74C359.5,217.99 360.44,219.02 361.38,219.93C362.31,220.83 363.25,221.58 364.19,222.18C365.12,222.77 365.91,223.14 367,223.49C368.09,223.83 369.19,224.02 370.75,224.24C372.31,224.46 375.44,224.71 376.38,224.8H399" fill="none" stroke="#181818" stroke-width="1.15" stroke-linejoin="round"/>
<text x="324.8" y="136.9" font-size="9.9" fill="#000" stroke="#000" stroke-width="0.25">800K, max. distortion</text>
<text transform="translate(321.5,165.55) scale(1,1.05)" font-size="6.6" fill="#4D4D4D" stroke="#4D4D4D" stroke-width="0.08" text-anchor="end">Zn</text>
<text transform="translate(321.5,177.85) scale(1,1.05)" font-size="6.6" fill="#4D4D4D" stroke="#4D4D4D" stroke-width="0.08" text-anchor="end">O</text>
<text transform="translate(321.5,190.2) scale(1,1.05)" font-size="6.6" fill="#4D4D4D" stroke="#4D4D4D" stroke-width="0.08" text-anchor="end">Ni</text>
<text transform="translate(321.5,202.55) scale(1,1.05)" font-size="6.6" fill="#4D4D4D" stroke="#4D4D4D" stroke-width="0.08" text-anchor="end">Mg</text>
<text transform="translate(321.5,214.85) scale(1,1.05)" font-size="6.6" fill="#4D4D4D" stroke="#4D4D4D" stroke-width="0.08" text-anchor="end">Cu</text>
<text transform="translate(321.5,227.15) scale(1,1.05)" font-size="6.6" fill="#4D4D4D" stroke="#4D4D4D" stroke-width="0.08" text-anchor="end">Co</text>
<text transform="translate(308.85,188.1) rotate(-90)" font-size="8.1" fill="#000" stroke="#000" stroke-width="0.2" text-anchor="middle">Atoms</text>
<text transform="translate(333.1,240.6) scale(1,1.14)" font-size="6.6" fill="#4D4D4D" stroke="#4D4D4D" stroke-width="0.15" text-anchor="middle">0.00</text>
<text transform="translate(350.13,240.6) scale(1,1.14)" font-size="6.6" fill="#4D4D4D" stroke="#4D4D4D" stroke-width="0.15" text-anchor="middle">0.25</text>
<text transform="translate(367.15,240.6) scale(1,1.14)" font-size="6.6" fill="#4D4D4D" stroke="#4D4D4D" stroke-width="0.15" text-anchor="middle">0.50</text>
<text transform="translate(384.18,240.6) scale(1,1.14)" font-size="6.6" fill="#4D4D4D" stroke="#4D4D4D" stroke-width="0.15" text-anchor="middle">0.75</text>
<text transform="translate(401.2,240.6) scale(1,1.14)" font-size="6.6" fill="#4D4D4D" stroke="#4D4D4D" stroke-width="0.15" text-anchor="middle">1.00</text>
<text transform="translate(363.5,250.2) scale(1,1.03)" font-size="8.1" fill="#000" stroke="#000" stroke-width="0.2" text-anchor="middle">Displacement (Å)</text>
<text transform="translate(414.4,158.7) scale(1,1.03)" font-size="8.1" fill="#000" stroke="#000" stroke-width="0.2">Atoms</text>
<rect x="414.8" y="164.15" width="9.1" height="9.2" fill="#F8766D" stroke="#181818" stroke-width="0.8"/>
<text x="428.35" y="171.45" font-size="6.6" fill="#000" stroke="#000" stroke-width="0.12">Co</text>
<rect x="414.8" y="174.15" width="9.1" height="9.2" fill="#B79F00" stroke="#181818" stroke-width="0.8"/>
<text x="428.35" y="181.45" font-size="6.6" fill="#000" stroke="#000" stroke-width="0.12">Cu</text>
<rect x="414.8" y="184.15" width="9.1" height="9.2" fill="#00BA38" stroke="#181818" stroke-width="0.8"/>
<text x="428.35" y="191.45" font-size="6.6" fill="#000" stroke="#000" stroke-width="0.12">Mg</text>
<rect x="414.8" y="194.15" width="9.1" height="9.2" fill="#00BFC4" stroke="#181818" stroke-width="0.8"/>
<text x="428.35" y="201.45" font-size="6.6" fill="#000" stroke="#000" stroke-width="0.12">Ni</text>
<rect x="414.8" y="204.15" width="9.1" height="9.2" fill="#619CFF" stroke="#181818" stroke-width="0.8"/>
<text x="428.35" y="211.45" font-size="6.6" fill="#000" stroke="#000" stroke-width="0.12">O</text>
<rect x="414.8" y="214.15" width="9.1" height="9.2" fill="#F564E3" stroke="#181818" stroke-width="0.8"/>
<text x="428.35" y="221.45" font-size="6.6" fill="#000" stroke="#000" stroke-width="0.12">Zn</text>
</g>
</g>
</svg>
</body></html>
